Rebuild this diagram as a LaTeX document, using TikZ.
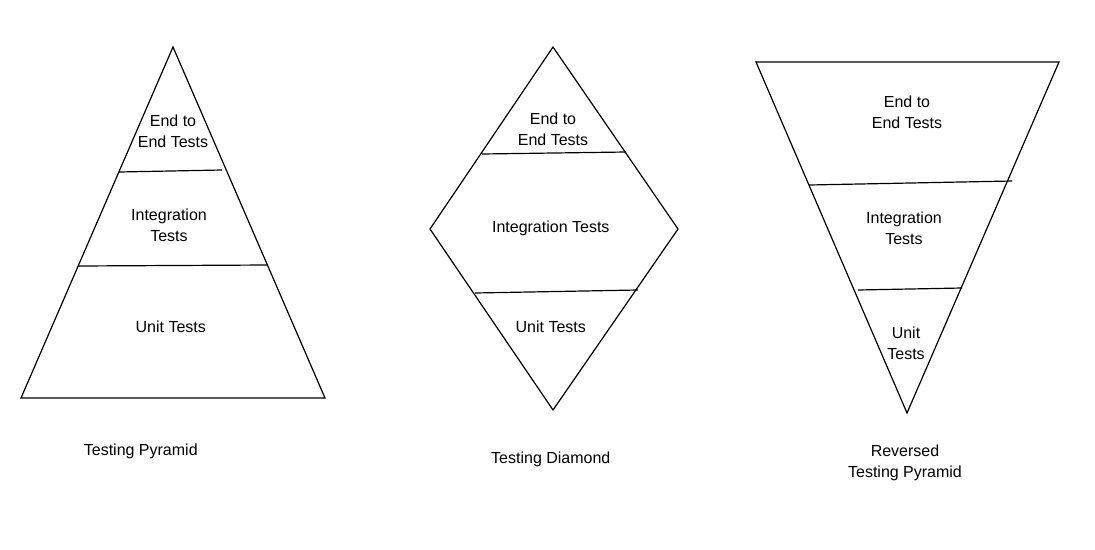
\documentclass[tikz,border=0pt]{standalone}
\usepackage{fontspec}
\setmainfont{Liberation Sans}
\begin{document}
\begin{tikzpicture}[x=1pt,y=-1pt,line width=1.2pt,
  lbl/.style={align=center,font=\fontsize{16}{21}\selectfont}]
  \useasboundingbox (0,0) rectangle (1095,549);

  \draw (173,47) -- (325,398) -- (21,398) -- cycle;
  \draw (119,172) -- (222,170);
  \draw (78,266) -- (268,265);
  \node [lbl] (pe2e) at (173,131) { End to\\End Tests };
  \node [lbl] (pint) at (169,225) { Integration\\Tests };
  \node [lbl] (punit) at (173,327) { Unit Tests };
  \node [lbl] (ptitle) at (143,451) { Testing Pyramid };

  \draw (553,47) -- (678,229) -- (553,410) -- (430,229) -- cycle;
  \draw (482,154) -- (626,152);
  \draw (475,293) -- (638,290);
  \node [lbl] (de2e) at (553,129) { End to\\End Tests };
  \node [lbl] (dint) at (553,228) { Integration Tests };
  \node [lbl] (dunit) at (553,327) { Unit Tests };
  \node [lbl] (dtitle) at (553,459) { Testing Diamond };

  \draw (756,62) -- (1059,62) -- (907,413) -- cycle;
  \draw (809,185) -- (1012,181);
  \draw (858,290) -- (962,288);
  \node [lbl] (re2e) at (907,112) { End to\\End Tests };
  \node [lbl] (rint) at (904,228) { Integration\\Tests };
  \node [lbl] (runit) at (906,343) { Unit\\Tests };
  \node [lbl] (rtitle) at (905,463) { Reversed\\Testing Pyramid };
\end{tikzpicture}
\end{document}
